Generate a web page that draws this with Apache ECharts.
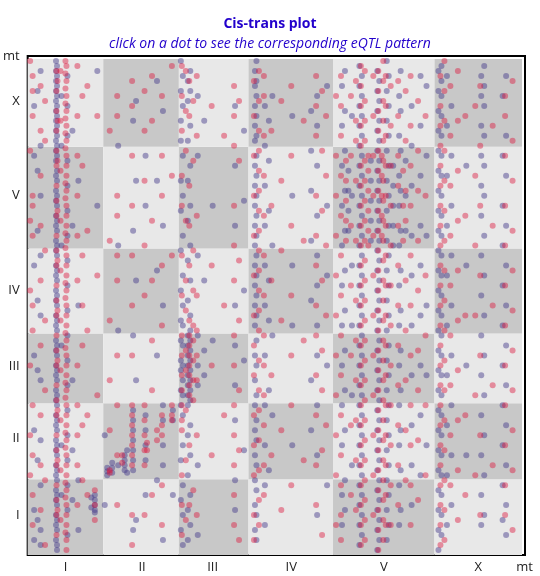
<!DOCTYPE html><html><head><meta charset="utf-8">
<script src="https://cdn.jsdelivr.net/npm/echarts@6/dist/echarts.min.js"></script>
<style>html,body{margin:0;padding:0;background:#fff}#c{width:540px;height:576px}</style></head><body><div id="c"></div>
<script>
const chromNames=['I','II','III','IV','V','X','mt'];
const chromBounds=[0,15.2,30.4,44.4,61.4,81.8,99.4,100];
const xLabelPos=[7.6,23,37.2,53,71.6,90.6,99.9];
const yLabelPos=[8,23.4,37.8,53,72,91,100];
// streaks: [x, [y values]]
const redStreaks=[
[1.0,[96,93,88,72,70,64,50,45,30,20,12,6]],
[2.6,[94,85,76,66,55,42,28,18,9]],
[5.8,[97,93,89,85,81,78,74,71,68,64,61,58,54,51,48,44,41,38,34,31,28,24,21,18,14,11,8,4]],
[6.6,[97,87,77,67,57,47,37,27,17,7]],
[7.8,[98,95,92,89,86,83,80,78,76,73,70,68,66,63,60,58,56,53,50,48,46,43,40,38,36,33,30,28,26,23,20,18,16,13,10,8,6,3,1]],
[10,[98,88,80,72,64,55,38,30,24,18,10]],
[12,[94,65,45,28,12]],
[13.5,[13,10,7]],
[14,[88,56,32]],
[18,[92,88,72,68,60,55,40,30,20,10]],
[16.5,[17,16.5]],[19,[18.5,20]],[24,[21,22.5]],[26,[23,25]],
[21,[95,90,80,70,60,50,40,30,28,26,24,22,20,18,8,2]],
[23.5,[93,85,75,62,52,30,27,24,21,18,8]],
[27,[92,80,72,58,46,28,26,24,14,6]],
[29,[98,76,60,30,28,27]],
[31,[98,92,85,76,70,60,52,44,40,36,33,30,27,25,16,10,4]],
[32.5,[95,88,74,66,58,47,44,42,40,38,36,34,32,22,10]],
[34,[96,84,68,52,45,40,35,24,8]],
[37,[90,58,38,20]],
[41.5,[94,88,82,70,62,55,44,38,30,24,18,12,6]],
[45.5,[95,88,80,72,64,56,48,42,36,28,22,16,8,3]],
[47.5,[96,92,84,76,68,60,52,44,38,32,26,18,12]],
[49,[85,70,55,36,20]],
[53,[94,80,66,52,40,30,14]],
[58,[96,90,84,72,64,58,50,44,36,28,18,10]],
[60,[88,76,62,48,26]],
[63,[96,90,84,76,68,60,52,44,36,28,20,14,8,3]],
[65,[92,80,66,54,40,26,12]],
[67,[98,94,90,86,82,78,74,70,66,62,58,54,50,46,42,38,34,30,26,22,18,14,10,6,2]],
[70.5,[97,93,89,85,81,77,73,69,65,61,57,53,49,45,41,37,33,29,25,21,17,13,9,5,1]],
[72,[96,90,84,78,72,66,60,54,48,42,36,30,24,18,12,6]],
[74.5,[95,88,80,74,66,58,50,42,34,26,18,10]],
[77,[96,86,78,70,60,50,40,30,22,14,6]],
[80,[88,72,56,44,30,16]],
[64,[63,67,71,75,79]],[68.5,[62,65,69,73,77,80]],[71.2,[64,68,72,76,80]],[75.5,[63,70,77]],
[83,[96,90,86,82,78,74,70,66,62,58,54,50,46,42,38,34,30,26,22,18,14,10,6,2]],
[85,[94,84,74,64,54,44,34,24,14]],
[88,[88,68,48,28,12]],
[91,[94,82,70,56,40,24,8]],
[96,[92,88,80,70,62,54,46,38,30,22,14,8]],
// extra density
[7.6,[99,96.5,93.5,90.5,87.5,84.5,81.5,74.5,71.5,64.5,61.5,54.5,51.5,44.5,41.5,34.5,31.5,24.5,21.5,14.5,11.5,4.5]],
[6,[95,87,79,69,59,49,39,29,19,9]],
[3.5,[91,83,61,47,33,15,2]],
[0.5,[99,81,67,53,38,24,16]],
[11,[92,78,60,50,42,26,15]],
[16.5,[85,63,47,35,25]],
[25,[96,87,67,55,43,33,12]],
[31.8,[97,89,81,67,55,49,41,37,29,19,7]],
[33.3,[91,79,61,53,46,43,39,35,31,13]],
[39.5,[84,50,28]],
[42.5,[91,79,59,47,33,21,3]],
[46.5,[97,91,85,81,77,73,69,65,61,57,53,49,45,39,33,29,23,17,11,6]],
[51,[91,75,61,47,25,9]],
[55.5,[87,63,43,19]],
[59.2,[93,81,69,55,41,33,21,4]],
[62,[92,80,72,64,56,48,40,32,24,16,6]],
[66,[95,87,83,75,63,51,43,35,27,19,9]],
[67.8,[97,91,87,83,79,75,71,67,63,59,55,51,47,43,39,35,31,27,23,19,15,11,7,3]],
[69.5,[96,88,80,72,64,56,48,40,32,24,16,8]],
[71.5,[99,95,91,87,83,79,75,71,67,63,59,55,51,47,43,39,35,31,27,23,19,15,11,7,3]],
[73,[94,86,78,70,62,54,46,38,30,22,14,6]],
[76,[93,83,73,67,55,45,35,25,15]],
[78.5,[91,81,73,63,53,41,33,23,11]],
[83.8,[99,93,87,81,75,69,63,57,51,45,39,33,27,21,15,9,3]],
[86.5,[97,87,77,67,57,47,37,27,17,7]],
[90,[90,76,62,48,32,16]],
[93.5,[86,66,50,34,18]],
[97.5,[95,83,75,65,57,49,41,33,25,17,5]]
];
const blueStreaks=[
[1.3,[90,80,58,40,25,9,3]],
[2.6,[97,82,72,60,48,35,23,14,5,2]],
[5.9,[98,96,94,92,90,88,86,84,82,80,77,75,72,70,67,65,62,60,57,55,52,50,47,45,42,40,37,35,32,30,27,25,22,20,17,15,12,10,7,5,2,1]],
[6.8,[92,82,62,42,22,12]],
[8,[96,90,84,79,74,69,64,59,54,49,44,39,34,29,24,19,14,9,4]],
[10.2,[75,50,15,5]],
[13.5,[12,11,10,9,8.5]],[12.8,[11.5,9.5]],
[14,[97,70]],
[18.2,[82,62,45,18]],
[16,[16,16.8,17.5]],[17,[16.5,17.5,18.5]],[19.5,[17,18,19,20]],[20,[16.5,21]],
[21.2,[87,65,44,29,27,25,23,21,19,17,5]],
[23.7,[80,70,28,25,22,19,12]],
[27.2,[89,66,50,30,27,22,18,3]],
[29.2,[29,27,12]],
[31.2,[96,90,80,72,64,56,50,46,42,38,35,32,28,22,14,8,2]],
[32.7,[97,93,86,78,70,62,55,48,45,43,41,39,37,35,33,31,26,20,12,6]],
[34.2,[92,80,60,44,38,34,18,4]],
[37.2,[70,43]],
[41.7,[90,78,66,50,42,34,27,15,9]],
[45.7,[97,94,90,86,83,78,74,70,66,62,58,54,50,46,40,35,30,25,20,15,10,5]],
[47.7,[90,82,74,66,58,50,40,30,22,14,6]],
[49.2,[92,62,44,28]],
[53.2,[88,72,58,46,22]],
[58.2,[92,86,78,68,60,54,46,40,30,20,8]],
[60.2,[94,70,56,38,14]],
[63.2,[94,86,78,70,62,54,46,38,30,22,12,6]],
[65.2,[88,72,58,46,32,18]],
[67.2,[96,92,88,84,80,76,72,68,64,60,56,52,48,44,40,36,32,28,24,20,16,12,8,4]],
[70.7,[95,91,87,83,79,75,71,67,63,59,55,51,47,43,39,35,31,27,23,19,15,11,7,3]],
[72.2,[99,93,87,81,75,69,63,57,51,45,39,33,27,21,15,9,3]],
[74.7,[92,84,76,70,62,54,46,38,30,22,14,6]],
[77.2,[90,82,74,64,56,46,36,26,18,10]],
[80.2,[94,80,64,50,36,22]],
[64.5,[65,69,73,77]],[69,[63,67,71,75,79]],[73.5,[62,66,70,74,78]],[76,[65,72,79]],
[83.2,[98,95,92,88,84,80,76,72,68,64,60,56,52,48,44,40,36,32,28,24,20,16,12,8,4]],
[85.2,[90,80,70,60,50,40,30,20,10]],
[88.2,[78,58,38,20]],
[91.2,[96,92,86,80,74,68,60,52,44,36,28,20,12,6]],
[96.2,[96,84,76,66,58,50,42,34,26,18,10,4]],
// extra density
[5.7,[99,97,95,93,91,89,87,85,83,81,79,76,73,71,68,66,63,61,58,56,53,51,48,46,43,41,38,36,33,31,28,26,23,21,18,16,13,11,8,6,3]],
[2,[93,77,65,51,37,19,7]],
[9,[85,66,35,21,11]],
[15.5,[24,10]],
[21.8,[91,75,55,35,7]],
[26,[95,75,57,40,15]],
[30.8,[99,93,87,83,75,69,61,53,47,43,39,37,33,30,19,11,5]],
[32.2,[95,91,83,75,67,59,51,44,42,40,38,36,34,32,30,24,16,9,3]],
[35.5,[87,55,41,36]],
[43.5,[85,71,53,39,21]],
[46,[99,95,92,88,84,80,76,72,68,64,60,56,52,48,43,38,32,27,23,18,13,8,3]],
[48.5,[87,79,69,55,47,33,17]],
[57,[89,81,73,63,51,35,25]],
[63.8,[97,89,81,73,65,57,49,41,33,25,15,9]],
[66.7,[98,94,90,86,82,78,74,70,66,62,58,54,50,46,42,38,34,30,26,22,18,14,10,6,2]],
[70.3,[97,93,89,85,81,77,73,69,65,61,57,53,49,45,41,37,33,29,25,21,17,13,9,5,1]],
[72.6,[96,90,84,78,72,66,60,54,48,42,36,30,24,18,12,6]],
[75,[97,89,81,73,65,57,49,41,33,25,17,9]],
[79,[96,86,76,66,58,48,38,28,16]],
[82.6,[97,93,89,85,81,77,73,69,65,61,57,53,49,45,41,37,33,29,25,21,17,13,9,5,1]],
[84.3,[96,86,76,66,56,46,36,26,16,6]],
[91.8,[98,94,90,84,78,72,64,56,48,40,32,24,16,8]],
[95.5,[92,80,70,62,54,46,38,30,22,14,7]]
];
const LIGHT='#e8e8e8',DARK='#c8c8c8';
function flat(s){const o=[];s.forEach(([x,ys])=>ys.forEach(y=>o.push([x,y])));return o;}
const areas=[];
for(let i=0;i<6;i++)for(let j=0;j<6;j++){
 areas.push([{xAxis:chromBounds[i],yAxis:chromBounds[j],itemStyle:{color:(i+j)%2===0?DARK:LIGHT}},{xAxis:chromBounds[i+1],yAxis:chromBounds[j+1]}]);
}
function lab(pos){return function(v){let k=0,d=1e9;pos.forEach((p,i)=>{if(Math.abs(p-v)<d){d=Math.abs(p-v);k=i;}});return chromNames[k];};}
const chart=echarts.init(document.getElementById('c'));
chart.setOption({
 animation:false,
 title:{text:'Cis-trans plot',subtext:'click on a dot to see the corresponding eQTL pattern',left:'center',top:12,itemGap:6,
  textStyle:{color:'#2200cc',fontSize:14,fontWeight:'bold',fontFamily:'Open Sans'},
  subtextStyle:{color:'#2200cc',fontSize:14,fontStyle:'italic',fontFamily:'Open Sans'}},
 grid:{left:25,right:15,top:56,bottom:21,show:true,borderColor:'#000',borderWidth:2,backgroundColor:'#fff'},
 xAxis:{type:'value',min:0,max:100,splitLine:{show:false},axisLine:{show:false},axisTick:{show:false},
  axisLabel:{customValues:xLabelPos,formatter:lab(xLabelPos),color:'#222',fontSize:13,margin:6,fontFamily:'Open Sans'}},
 yAxis:{type:'value',min:0,max:100,splitLine:{show:false},axisLine:{show:false},axisTick:{show:false},
  axisLabel:{customValues:yLabelPos,formatter:lab(yLabelPos),color:'#222',fontSize:13,margin:8,fontFamily:'Open Sans'}},
 series:[
  {type:'scatter',data:[],silent:true,markArea:{silent:true,data:areas}},
  {type:'scatter',data:flat(blueStreaks),symbolSize:6,itemStyle:{color:'rgba(72,61,139,0.6)'}},
  {type:'scatter',data:flat(redStreaks),symbolSize:6,itemStyle:{color:'rgba(220,20,60,0.55)'}}
 ]
});
</script></body></html>
